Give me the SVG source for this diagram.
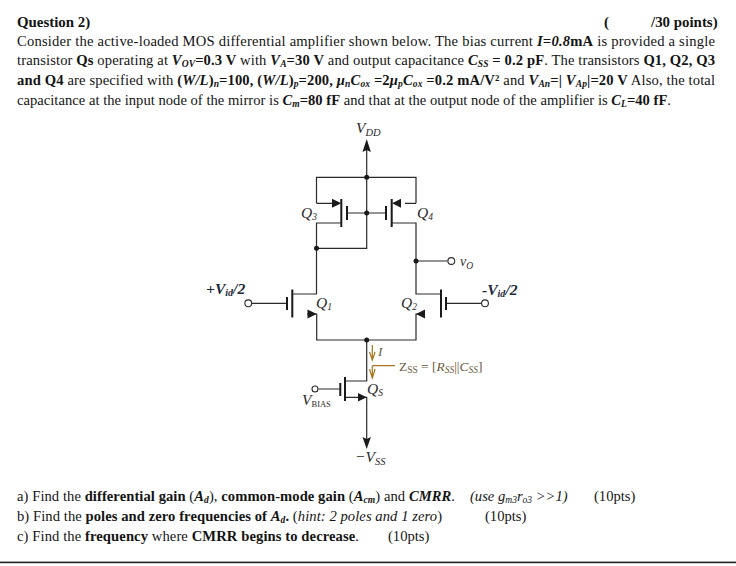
<svg xmlns="http://www.w3.org/2000/svg" width="736" height="566" viewBox="0 0 736 566">
<style>
text{font-family:"Liberation Serif","Times New Roman",serif;fill:#141414;font-size:14.6px}
.b{font-weight:bold}
.i{font-style:italic}
.s{font-size:9.5px}
.h{font-size:14.9px}
.w{fill:none;stroke:#2a2a2a;stroke-width:1.2}
.g{fill:none;stroke:#1a1a1a;stroke-width:2}
.d{fill:#1a1a1a}
.o{fill:#fff;stroke:#2a2a2a;stroke-width:1.1}
.c{font-size:15.5px;fill:#2a2a2a}
.cs{font-size:10.5px}
.l{font-size:14px;font-style:italic;fill:#333}
.ls{font-size:9.5px;font-style:italic;fill:#333}
.z{fill:none;stroke:#a5761c;stroke-width:1.2}
.zt{font-size:13.4px;fill:#6b5a3a}
.bg{font-weight:bold;font-style:italic;font-size:15.6px;fill:#1c2a3a}
</style>
<rect width="736" height="566" fill="#fff"/>
<g id="question-text">
<text x="17" y="27" class="b h">Question 2)</text>
<text x="604" y="27" class="b h">(</text>
<text x="651" y="27" class="b h">/30 points)</text>
<text x="17" y="46" textLength="698">Consider the active-loaded MOS differential amplifier shown below. The bias current <tspan class="b i">I=0.8</tspan><tspan class="b">mA</tspan> is provided a single</text>
<text x="17" y="65" textLength="698">transistor <tspan class="b">Qs</tspan> operating at <tspan class="b i">V</tspan><tspan class="b i s" dy="2">OV</tspan><tspan class="b" dy="-2">=0.3 V</tspan> with <tspan class="b i">V</tspan><tspan class="b i s" dy="2">A</tspan><tspan class="b" dy="-2">=30 V</tspan> and output capacitance <tspan class="b i">C</tspan><tspan class="b i s" dy="2">SS</tspan><tspan class="b" dy="-2"> = 0.2 pF</tspan>. The transistors <tspan class="b">Q1, Q2, Q3</tspan></text>
<text x="17" y="85" textLength="698"><tspan class="b">and Q4</tspan> are specified with <tspan class="b">(<tspan class="i">W/L</tspan>)</tspan><tspan class="b i s" dy="2">n</tspan><tspan class="b" dy="-2">=100, (<tspan class="i">W/L</tspan>)</tspan><tspan class="b i s" dy="2">p</tspan><tspan class="b" dy="-2">=200, </tspan><tspan class="b i">μ</tspan><tspan class="b i s" dy="2">n</tspan><tspan class="b i" dy="-2">C</tspan><tspan class="b i s" dy="2">ox</tspan><tspan class="b" dy="-2"> =2</tspan><tspan class="b i">μ</tspan><tspan class="b i s" dy="2">p</tspan><tspan class="b i" dy="-2">C</tspan><tspan class="b i s" dy="2">ox</tspan><tspan class="b" dy="-2"> =0.2 mA/V²</tspan> and <tspan class="b i">V</tspan><tspan class="b i s" dy="2">An</tspan><tspan class="b" dy="-2">=| </tspan><tspan class="b i">V</tspan><tspan class="b i s" dy="2">Ap</tspan><tspan class="b" dy="-2">|=20 V</tspan> Also, the total</text>
<text x="17" y="105" textLength="654">capacitance at the input node of the mirror is <tspan class="b i">C</tspan><tspan class="b i s" dy="2">m</tspan><tspan class="b" dy="-2">=80 fF</tspan> and that at the output node of the amplifier is <tspan class="b i">C</tspan><tspan class="b i s" dy="2">L</tspan><tspan class="b" dy="-2">=40 fF</tspan>.</text>
</g>
<g id="connectors">
<path class="w" d="M366.7 144V213M316.5 203.3V177.3H416V203.3M332 203.3H316.5M416 203.3H405M347 213H386M341.3 223H316.5V294H292.3M391.7 223H416V294H441M316.5 248.3H366.7V213"/>
<path class="w" d="M252 303.3H287M446 303.3H481.5M416 261H447.7M307 314H316.7V340H416V314H425M366.7 340V381H345M345 397.3H366.7V440M318.5 389H340.3"/>
<circle class="d" cx="366.7" cy="177.3" r="2.5"/>
<circle class="d" cx="366.7" cy="213" r="2.5"/>
<circle class="d" cx="316.5" cy="248.3" r="2.5"/>
<circle class="d" cx="416" cy="261" r="2.5"/>
<circle class="d" cx="366.7" cy="340" r="2.5"/>
<polygon class="d" points="366.7,139 362.5,152 366.7,150 370.9,152"/>
<polygon class="d" points="366.7,449 362.5,437 366.7,439 370.9,437"/>
</g>
<g id="Q3">
<path class="g" d="M341.3 199V227M347 206V220"/>
<polygon class="d" points="341.3,203.3 332,198.8 332,207.8"/>
<text x="301" y="218" class="c i">Q<tspan class="s" dy="2">3</tspan></text>
</g>
<g id="Q4">
<path class="g" d="M391.7 199V227M386 206V220"/>
<polygon class="d" points="392,203.3 401,198.8 401,207.8"/>
<text x="417" y="218" class="c i">Q<tspan class="s" dy="2">4</tspan></text>
</g>
<g id="Q1">
<path class="g" d="M292.3 289.5V317.5M287 297V310"/>
<polygon class="d" points="316.7,314 307.5,309.5 307.5,318.5"/>
<text x="316" y="308" class="c i">Q<tspan class="s" dy="2">1</tspan></text>
</g>
<g id="Q2">
<path class="g" d="M441 289.5V317.5M446 297V310"/>
<polygon class="d" points="416,314 425,309.5 425,318.5"/>
<text x="401" y="308" class="c i">Q<tspan class="s" dy="2">2</tspan></text>
</g>
<g id="Qs">
<path class="g" d="M345 377V401M340.3 383V396"/>
<polygon class="d" points="366.7,397.3 358,393 358,401.6"/>
<text x="367" y="394" class="c i">Q<tspan class="s" dy="2">S</tspan></text>
</g>
<g id="terminals">
<circle class="o" cx="248.3" cy="303.3" r="3.4"/>
<circle class="o" cx="485" cy="303.3" r="3.4"/>
<circle class="o" cx="451.3" cy="261" r="3.4"/>
<circle class="o" cx="315" cy="389" r="3"/>
<text x="356" y="133" class="c i">V<tspan class="cs" dy="3">DD</tspan></text>
<text x="206" y="294" class="bg">+V<tspan font-size="10" dy="2">id</tspan><tspan dy="-2">/2</tspan></text>
<text x="482" y="295" class="bg">-V<tspan font-size="10" dy="2">id</tspan><tspan dy="-2">/2</tspan></text>
<text x="460" y="265.5" class="l">v<tspan class="ls" dy="3">O</tspan></text>
<text x="302" y="404.5" class="c i">V<tspan font-size="8.5" font-style="normal" dy="2">BIAS</tspan></text>
<text x="355" y="461.5" class="c i">−V<tspan class="cs" dy="3">SS</tspan></text>
</g>
<g id="current-labels">
<path class="z" d="M372.3 345V358M369.5 352L372.3 360L375.1 352M372.3 366V377M369.5 369L372.3 378L375.1 369M372.3 365.7H395"/>
<text x="378" y="356" class="zt i">I</text>
<text x="399" y="371" class="zt">Z<tspan class="s" dy="2">SS</tspan><tspan dy="-2"> = [</tspan><tspan class="i">R</tspan><tspan class="s i" dy="2">SS</tspan><tspan dy="-2">||</tspan><tspan class="i">C</tspan><tspan class="s i" dy="2">SS</tspan><tspan dy="-2">]</tspan></text>
</g>
<g id="parts-text">
<text x="17" y="501" textLength="438">a)  Find the <tspan class="b">differential gain</tspan> (<tspan class="b i">A</tspan><tspan class="b i s" dy="2">d</tspan><tspan dy="-2">),</tspan> <tspan class="b">common-mode gain</tspan> (<tspan class="b i">A</tspan><tspan class="b i s" dy="2">cm</tspan><tspan dy="-2">)</tspan> and <tspan class="b i">CMRR</tspan>.</text>
<text x="470" y="501" class="i">(use g<tspan class="s" dy="2">m3</tspan><tspan dy="-2">r</tspan><tspan class="s" dy="2">o3</tspan><tspan dy="-2"> &gt;&gt;1)</tspan></text>
<text x="594" y="501">(10pts)</text>
<text x="17" y="521" textLength="425">b)  Find the <tspan class="b">poles and zero frequencies of <tspan class="i">A</tspan></tspan><tspan class="b i s" dy="2">d</tspan><tspan class="b" dy="-2">.</tspan> (<tspan class="i">hint: 2 poles and 1 zero</tspan>)</text>
<text x="485" y="521">(10pts)</text>
<text x="17" y="541" textLength="342">c)  Find the <tspan class="b">frequency</tspan> where <tspan class="b">CMRR begins to decrease</tspan>.</text>
<text x="388" y="541">(10pts)</text>
</g>
<rect id="rule" x="0" y="561.6" width="736" height="1.6" fill="#222"/>
</svg>
